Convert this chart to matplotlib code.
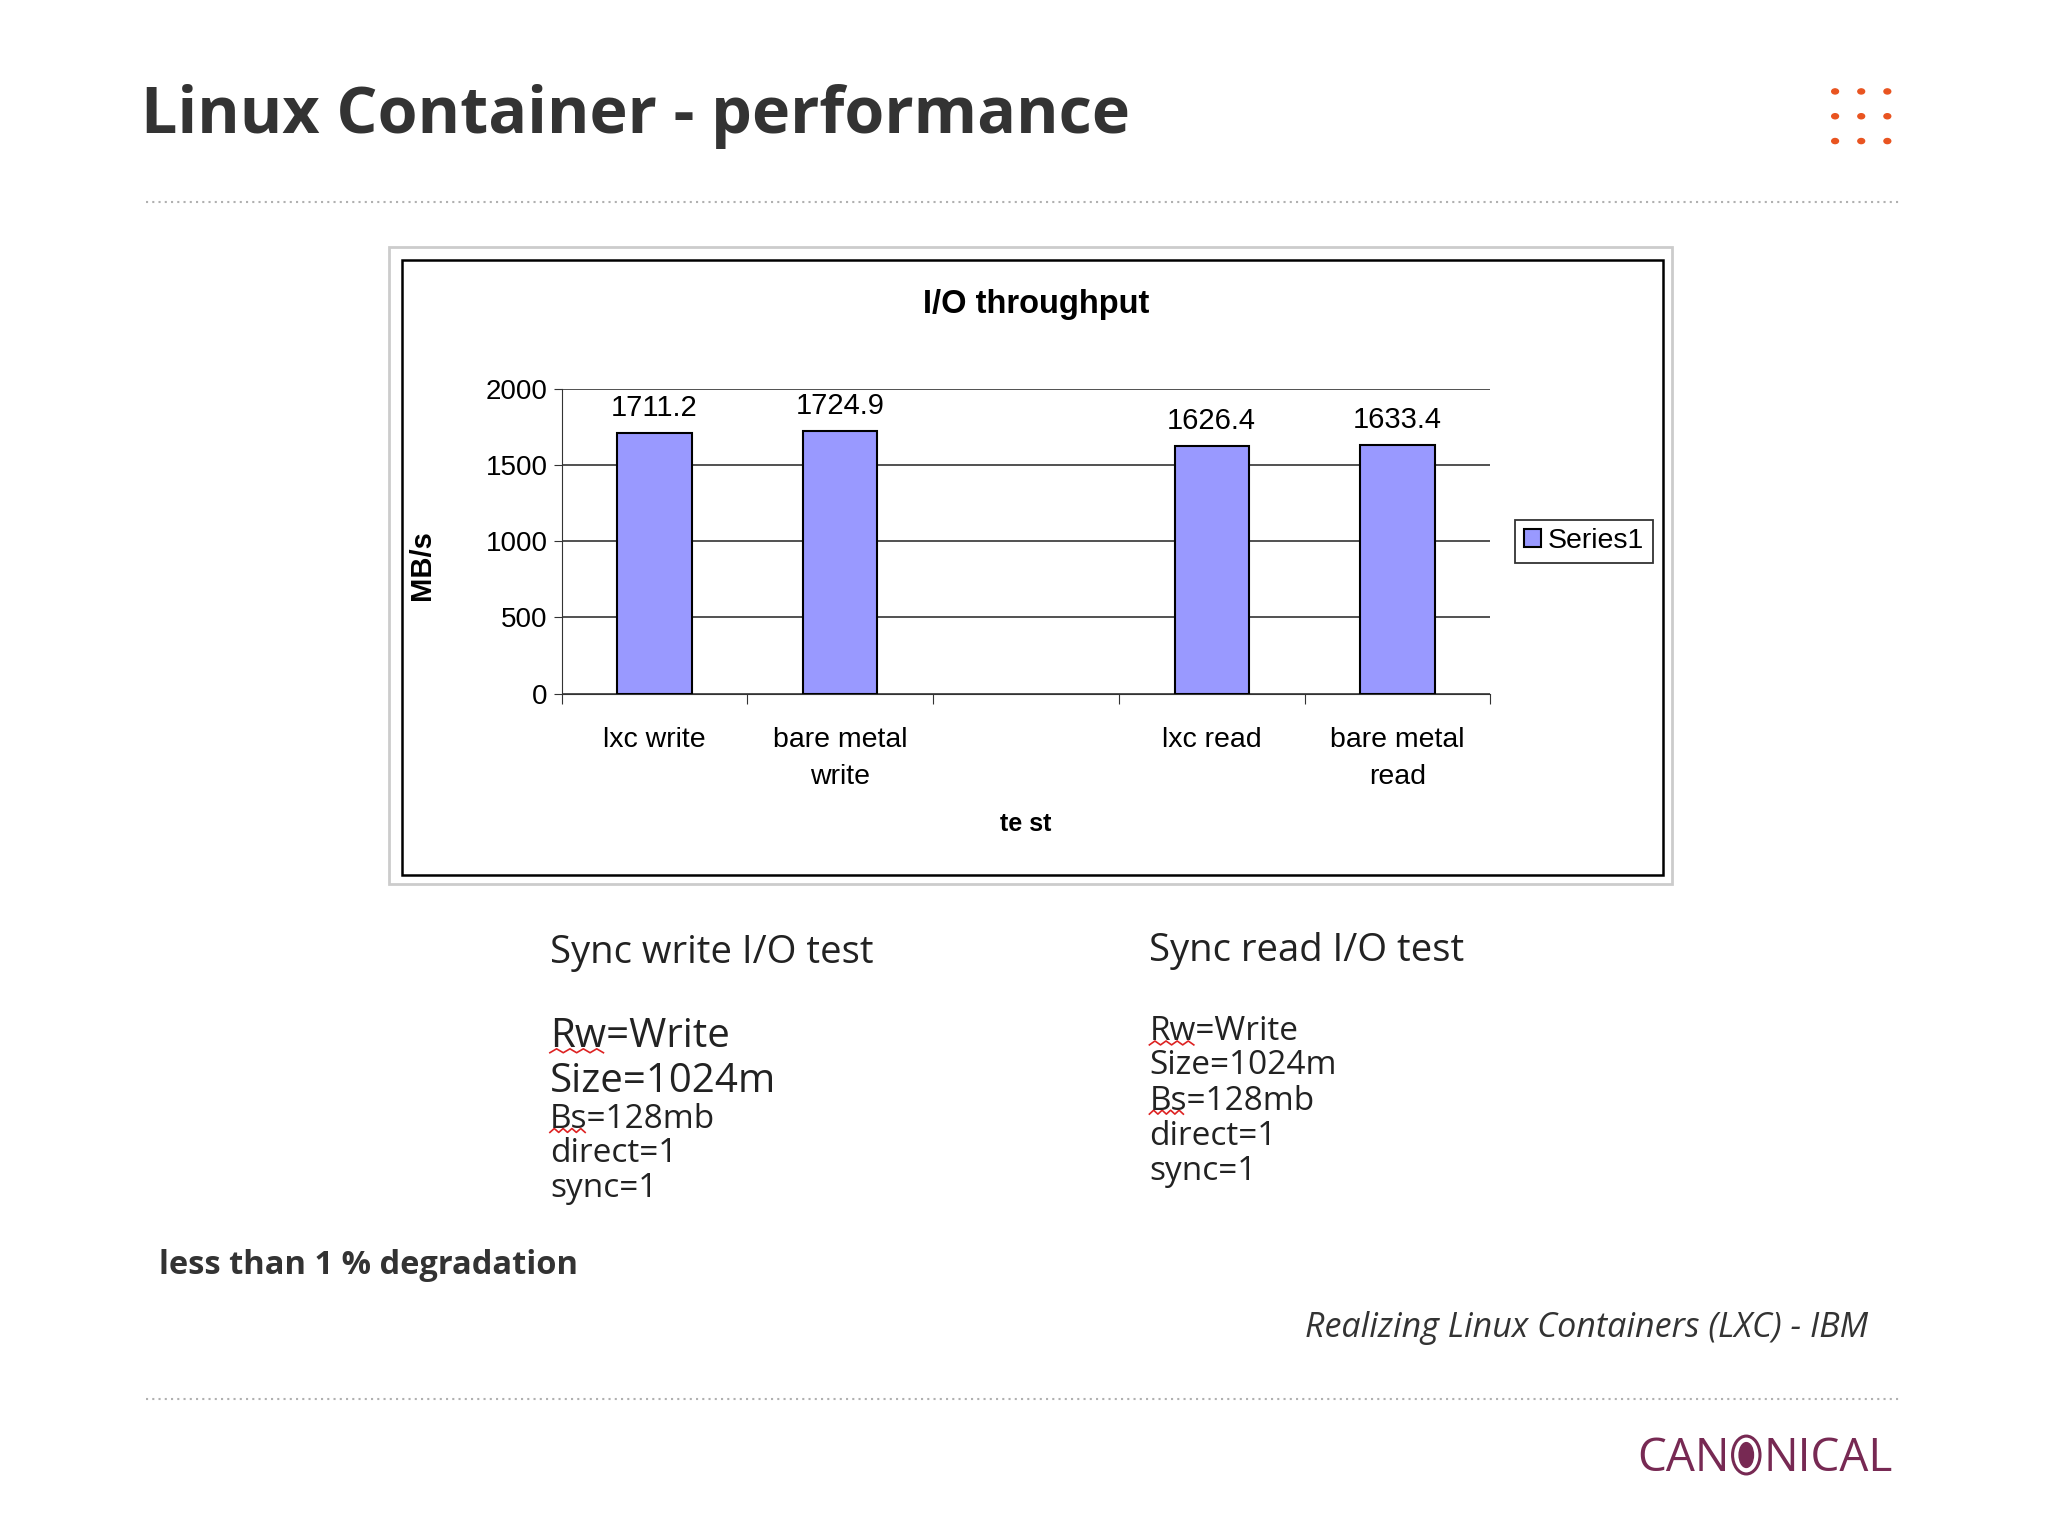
import numpy as np
import matplotlib
matplotlib.use("Agg")
from matplotlib import pyplot as plt
from matplotlib.patches import Rectangle, Circle, Ellipse

# chart data
categories = ["lxc write", "bare metal\nwrite", "", "lxc read", "bare metal\nread"]
throughput = [1711.2, 1724.9, np.nan, 1626.4, 1633.4]
value_labels = ["1711.2", "1724.9", "", "1626.4", "1633.4"]
y_ticks = [0, 500, 1000, 1500, 2000]

write_params = ["Rw=Write", "Size=1024m", "Bs=128mb", "direct=1", "sync=1"]
read_params = ["Rw=Write", "Size=1024m", "Bs=128mb", "direct=1", "sync=1"]

W, H = 1568.0, 1176.0   # layout measured on a scaled copy of the slide


def fx(x):
    return x / W


def fy(y):
    return 1 - y / H


fig = plt.figure(figsize=(20.48, 15.36), dpi=100)
fig.patch.set_facecolor("white")

dark = "#333333"
purple = "#772953"
slide_font = ["Open Sans", "DejaVu Sans"]
chart_font = ["Liberation Sans", "DejaVu Sans"]

# slide title and orange dots
fig.text(fx(108), fy(89), "Linux Container - performance", fontsize=46.5,
         fontweight="bold", color=dark, family=slide_font, va="center", ha="left")
for cx in (1405, 1425, 1445):
    for cy in (70, 89, 108):
        fig.patches.append(Circle((fx(cx), fy(cy)), 2.6 / W, transform=fig.transFigure,
                                  color="#E95420", zorder=5))

# dotted separators
for sy in (155, 1071):
    fig.add_artist(plt.Line2D([fx(112), fx(1456)], [fy(sy), fy(sy)], transform=fig.transFigure,
                              color="#b0b0b0", lw=1.5, linestyle=(0, (1, 2))))

# pasted chart frame
fig.patches.append(Rectangle((fx(298), fy(677)), fx(1280) - fx(298), fy(189) - fy(677),
                             transform=fig.transFigure, fill=False, ec="#cccccc", lw=2))
fig.patches.append(Rectangle((fx(308), fy(670)), fx(1273) - fx(308), fy(199) - fy(670),
                             transform=fig.transFigure, fill=False, ec="black", lw=1.8))

ax = fig.add_axes([fx(430), fy(531), fx(1141) - fx(430), fy(298) - fy(531)])
x = np.arange(len(categories))
bars = ax.bar(x, throughput, width=0.4, color="#9999FF", edgecolor="black", lw=1.5,
              zorder=3, label="Series1")
for xi, v, lab in zip(x, throughput, value_labels):
    if lab:
        ax.text(xi, v + 75, lab, ha="center", va="bottom", fontsize=21, family=chart_font)

ax.set_xlim(-0.5, len(categories) - 0.5)
ax.set_ylim(0, 2000)
ax.set_yticks(y_ticks)
ax.set_yticklabels([str(t) for t in y_ticks], fontsize=20, family=chart_font)
ax.yaxis.grid(True, color="#333333", lw=1.2)
ax.set_axisbelow(True)
ax.set_xticks(np.arange(len(categories) + 1) - 0.5)
ax.set_xticklabels([])
ax.set_xticks(x, minor=True)
ax.set_xticklabels(categories, minor=True, fontsize=20.5, family=chart_font, linespacing=1.55)
ax.tick_params(axis="x", which="minor", length=0, pad=24)
ax.tick_params(axis="x", which="major", length=7, color="#333333")
ax.tick_params(axis="y", length=6, color="#333333", pad=4)
for side in ("top", "right"):
    ax.spines[side].set_visible(False)
ax.spines["left"].set_color("#333333")
ax.spines["bottom"].set_color("#333333")

fig.text(fx(793), fy(233), "I/O throughput", fontsize=23.5, fontweight="bold",
         family=chart_font, ha="center", va="center")
fig.text(fx(323), fy(433), "MB/s", fontsize=21, fontweight="bold", rotation=90,
         family=chart_font, ha="center", va="center")
fig.text(fx(785), fy(631), "te st", fontsize=18, fontweight="bold",
         family=chart_font, ha="center", va="center")

leg = ax.legend(loc="center left", bbox_to_anchor=((1160 - 430) / (1141 - 430), 0.5),
                prop={"family": chart_font, "size": 20.5}, frameon=True, fancybox=False,
                handlelength=0.6, handleheight=0.6, handletextpad=0.25, borderpad=0.3,
                borderaxespad=0)
leg.get_frame().set_edgecolor("black")
leg.get_frame().set_linewidth(1.3)

# test parameter notes
fig.text(fx(421), fy(730), "Sync write I/O test", fontsize=27.5, color="#222222",
         family=slide_font, va="center")
fig.text(fx(880), fy(728), "Sync read I/O test", fontsize=27.5, color="#222222",
         family=slide_font, va="center")

write_rows = [(794, 29), (828, 29), (857, 24), (883, 24), (910, 24)]
read_rows = [(790, 24), (816, 24), (843, 24), (870, 24), (897, 24)]


def squiggle(x0, x1, y):
    xs = np.linspace(fx(x0), fx(x1), 9)
    ys = fy(y) + np.array([0, 1, 0, 1, 0, 1, 0, 1, 0]) * 3 / H
    fig.add_artist(plt.Line2D(xs, ys, transform=fig.transFigure, color="#dd2222", lw=1.2))


for (ry, fs), s in zip(write_rows, write_params):
    fig.text(fx(421), fy(ry), s, fontsize=fs, color="#222222", family=slide_font, va="center")
for (ry, fs), s in zip(read_rows, read_params):
    fig.text(fx(880), fy(ry), s, fontsize=fs, color="#222222", family=slide_font, va="center")
squiggle(421, 462, 806)
squiggle(421, 448, 867)
squiggle(880, 914, 800)
squiggle(880, 906, 853)

fig.text(fx(122), fy(969), "less than 1 % degradation", fontsize=23.5, fontweight="bold",
         color=dark, family=slide_font, va="center")
fig.text(fx(1430), fy(1017), "Realizing Linux Containers (LXC) - IBM", fontsize=24.5,
         style="italic", color=dark, family=slide_font, va="center", ha="right")

# CANONICAL wordmark with the circle-of-friends O
fig.text(fx(1324), fy(1117), "CAN", fontsize=33, color=purple,
         family=slide_font, va="center", ha="right")
fig.text(fx(1350), fy(1117), "NICAL", fontsize=33, color=purple,
         family=slide_font, va="center", ha="left")
fig.patches.append(Ellipse((fx(1337), fy(1114)), 21 / W, 29 / H, transform=fig.transFigure,
                           fill=False, ec=purple, lw=2.2))
fig.patches.append(Ellipse((fx(1337), fy(1114)), 11 / W, 19 / H, transform=fig.transFigure,
                           color=purple))

fig.savefig("out.png", dpi=100, facecolor="white")
